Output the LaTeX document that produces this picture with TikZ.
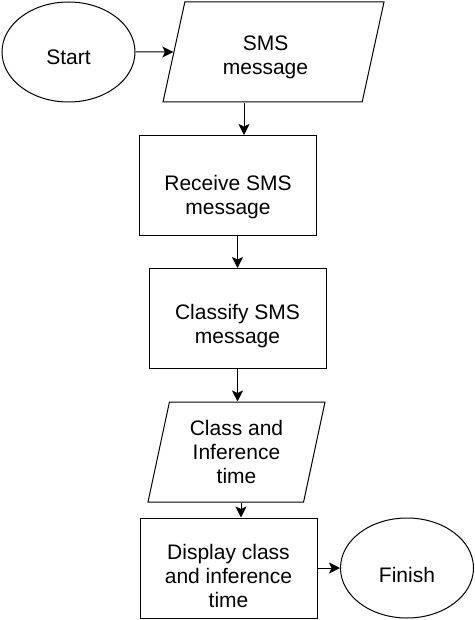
\documentclass[tikz,border=0pt]{standalone}
\usepackage{fontspec}
\setmainfont{Liberation Sans}
\usetikzlibrary{shapes.geometric,arrows.meta}

\newcommand{\dropby}[1]{\rule{0pt}{#1}}

\begin{document}
\begin{tikzpicture}[x=1pt,y=-1pt,
    every node/.style={font=\fontsize{21}{24}\selectfont, align=center, line width=1pt},
    terminal/.style={draw, ellipse, minimum width=133pt, minimum height=100pt},
    process/.style={draw, rectangle, minimum width=177pt, minimum height=100pt},
    io/.style={draw, trapezium, trapezium stretches body, minimum height=100pt},
    flow/.style={-{Stealth[length=11pt,width=11pt,inset=2.5pt]}, line width=1pt}]
                \useasboundingbox (0,0) rectangle (474,620);
                \node[terminal] (start) at (68.5,52) {\dropby{25pt}Start};
                \node[io, trapezium left angle=70, trapezium right angle=110, minimum width=221pt] (sms) at (273.5,52) {\dropby{25pt}SMS\rule{16pt}{0pt}\\message\rule{16pt}{0pt}};
                \node[process] (receive) at (228,185.5) {\dropby{39pt}Receive SMS\\message};
                \node[process] (classify) at (237.5,318.5) {\dropby{31pt}Classify SMS\\message};
                \node[io, trapezium left angle=73, trapezium right angle=107, minimum width=177pt] (class) at (236.5,452) {Class and\\Inference\\time};
                \node[process] (display) at (228.5,568) {\dropby{31pt}Display class\\and inference\\time};
                \node[terminal] (finish) at (407,568) {\dropby{29pt}Finish};
                \draw[flow] (start.east) -- (sms.west);
                \draw[flow] (sms.south -| 244,0) -- (receive.north -| 244,0);
                \draw[flow] (classify.north |- receive.south) -- (classify.north);
                \draw[flow] (classify.south) -- (classify.south |- class.north);
                \draw[flow] (class.south -| 241,0) -- (display.north -| 241,0);
                \draw[flow] (display.east) -- (finish.west);
            \end{tikzpicture}
\end{document}
